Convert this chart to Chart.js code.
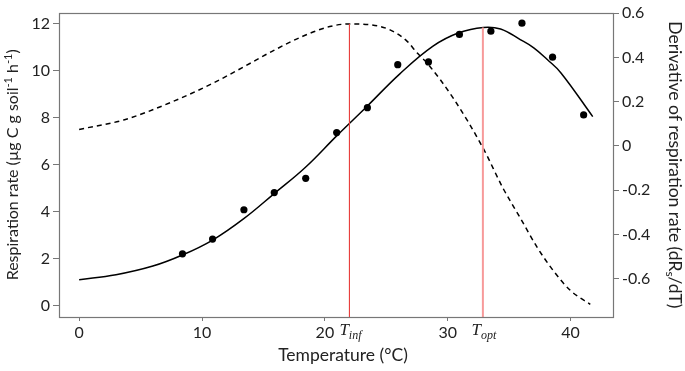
<!DOCTYPE html>
<html><head><meta charset="utf-8">
<script src="https://cdn.jsdelivr.net/npm/chart.js@4"></script>
<style>html,body{margin:0;padding:0;background:#fff;overflow:hidden;} #wrap{width:685px;height:371px;position:relative;}</style>
</head><body><div id="wrap"><canvas id="c" width="685" height="371"></canvas></div>
<script>
// Observed respiration rates
const obsTemp = [8.41, 10.86, 13.41, 15.88, 18.44, 20.96, 23.46, 25.93, 28.43, 30.95, 33.51, 36.04, 38.53, 41.06];
const obsRate = [2.20, 2.83, 4.08, 4.81, 5.42, 7.37, 8.43, 10.26, 10.38, 11.55, 11.69, 12.03, 10.58, 8.12];
// Fitted curve
const fitTemp = [0, 3, 6, 8.4, 10.9, 13.4, 15.9, 18.4, 21.0, 23.4, 26.1, 28.8, 30.9, 32.9, 34.3, 35.9, 37.0, 38.1, 39.2, 41.8];
const fitRate = [1.10, 1.31, 1.68, 2.15, 2.80, 3.70, 4.78, 5.88, 7.25, 8.47, 9.87, 11.05, 11.62, 11.85, 11.78, 11.33, 10.98, 10.48, 9.92, 8.05];
// Derivative curve (right axis)
const derivTemp = [0, 3.7, 7.8, 11.0, 13.5, 15.7, 18.2, 20.4, 22.0, 23.7, 25.3, 26.7, 27.5, 28.3, 30.5, 32.9, 34.5, 35.9, 37.3, 38.6, 40.0, 41.6];
const derivValue = [0.075, 0.119, 0.205, 0.287, 0.361, 0.428, 0.496, 0.540, 0.552, 0.548, 0.525, 0.473, 0.421, 0.376, 0.212, -0.012, -0.191, -0.325, -0.460, -0.564, -0.654, -0.716];
// Reference temperatures
const tInf = 22.0, tInfPeak = 0.552;
const tOpt = 32.86, tOptPeak = 11.85;
// Axes
const xRange = [-1.64, 43.45];
const leftRange = [-0.49, 12.48];
const rightRange = [-0.773, 0.603];
const xTicks = [0, 10, 20, 30, 40];
const xTickLabels = ['0', '10', '20', '30', '40'];
const leftTicks = [0, 2, 4, 6, 8, 10, 12];
const leftTickLabels = ['0', '2', '4', '6', '8', '10', '12'];
const rightTicks = [-0.6, -0.4, -0.2, 0, 0.2, 0.4, 0.6];
const rightTickLabels = ['-0.6', '-0.4', '-0.2', '0', '0.2', '0.4', '0.6'];

const zip = (xs, ys) => xs.map((x, i) => ({x, y: ys[i]}));
const FONT = 'Lato';
const AXIS = '#777';
const TXT = '#222';

function richWidth(ctx, segs) {
  let w = 0;
  for (const s of segs) { ctx.font = s.font; w += ctx.measureText(s.t).width; }
  return w;
}
function drawRich(ctx, segs, cx, cy, rot) {
  ctx.save();
  ctx.translate(cx, cy);
  ctx.rotate(rot);
  ctx.textBaseline = 'alphabetic';
  ctx.textAlign = 'left';
  ctx.fillStyle = TXT;
  let x = -richWidth(ctx, segs) / 2;
  for (const s of segs) {
    ctx.font = s.font;
    ctx.fillText(s.t, x, s.dy || 0);
    x += ctx.measureText(s.t).width;
  }
  ctx.restore();
}

const decor = {
  id: 'decor',
  afterDraw(chart) {
    const ctx = chart.ctx, a = chart.chartArea;
    ctx.save();
    ctx.strokeStyle = AXIS;
    ctx.lineWidth = 1.2;
    ctx.strokeRect(Math.round(a.left) + 0.5, Math.round(a.top) + 0.5, Math.round(a.right - a.left), Math.round(a.bottom - a.top));
    ctx.restore();
    const xs = chart.scales.x;
    const tf = 'italic 17px "Liberation Serif"';
    const sf = 'italic 12px "Liberation Serif"';
    drawRich(ctx, [{t:'T', font:tf}, {t:'inf', font:sf, dy:4}], xs.getPixelForValue(tInf) + 1, 335, 0);
    drawRich(ctx, [{t:'T', font:tf}, {t:'opt', font:sf, dy:4}], xs.getPixelForValue(tOpt) + 1, 335, 0);
    const mf = '16px ' + FONT, bf = '17.5px ' + FONT, sup = '11px ' + FONT;
    const cy = (a.top + a.bottom) / 2;
    drawRich(ctx, [{t:'Temperature (°C)', font:bf}], (a.left + a.right) / 2 + 7, 361, 0);
    drawRich(ctx, [
      {t:'Respiration rate (µg C g soil', font:mf},
      {t:'-1', font:sup, dy:-6},
      {t:' h', font:mf},
      {t:'-1', font:sup, dy:-6},
      {t:')', font:mf}
    ], 18, cy, -Math.PI / 2);
    drawRich(ctx, [
      {t:'Derivative of respiration rate (dR', font:bf},
      {t:'s', font:'12px ' + FONT, dy:3},
      {t:'/dT)', font:bf}
    ], 669, cy, Math.PI / 2);
  }
};

const tickFont = {family: FONT, size: 16};
new Chart(document.getElementById('c'), {
  type: 'scatter',
  data: {
    datasets: [
      {label: 'Tinf', data: [{x: tInf, y: tInfPeak}, {x: tInf, y: rightRange[0]}], yAxisID: 'y2', showLine: true, borderColor: '#e8403f', borderWidth: 1, pointRadius: 0},
      {label: 'Topt', data: [{x: tOpt, y: tOptPeak}, {x: tOpt, y: leftRange[0]}], yAxisID: 'y', showLine: true, borderColor: '#f79a9a', borderWidth: 2, pointRadius: 0},
      {label: 'deriv', data: zip(derivTemp, derivValue), yAxisID: 'y2', showLine: true, borderColor: '#000', borderWidth: 1.5, borderDash: [5, 4], pointRadius: 0, cubicInterpolationMode: 'monotone'},
      {label: 'fit', data: zip(fitTemp, fitRate), yAxisID: 'y', showLine: true, borderColor: '#000', borderWidth: 1.5, pointRadius: 0, tension: 0.4},
      {label: 'obs', data: zip(obsTemp, obsRate), yAxisID: 'y', showLine: false, pointRadius: 3.6, pointBackgroundColor: '#000', pointBorderColor: '#000', pointBorderWidth: 0}
    ]
  },
  options: {
    responsive: false,
    devicePixelRatio: 1,
    animation: false,
    events: [],
    layout: {padding: {top: 9, left: 0, right: 0, bottom: 0}},
    plugins: {legend: {display: false}, tooltip: {enabled: false}},
    scales: {
      x: {
        type: 'linear', position: 'bottom', min: xRange[0], max: xRange[1],
        afterBuildTicks: s => { s.ticks = xTicks.map(v => ({value: v})); },
        afterFit: s => { s.height = 54; },
        ticks: {font: tickFont, color: TXT, padding: 2, maxRotation: 0, autoSkip: false, callback: (v, i) => xTickLabels[i]},
        grid: {drawOnChartArea: false, drawTicks: true, tickLength: 4, color: AXIS, tickColor: AXIS},
        border: {display: false}
      },
      y: {
        type: 'linear', position: 'left', min: leftRange[0], max: leftRange[1],
        afterBuildTicks: s => { s.ticks = leftTicks.map(v => ({value: v})); },
        afterFit: s => { s.width = 59; },
        ticks: {font: tickFont, color: TXT, padding: 3, autoSkip: false, callback: (v, i) => leftTickLabels[i]},
        grid: {drawOnChartArea: false, drawTicks: true, tickLength: 6, color: AXIS, tickColor: AXIS},
        border: {display: false}
      },
      y2: {
        type: 'linear', position: 'right', min: rightRange[0], max: rightRange[1],
        afterBuildTicks: s => { s.ticks = rightTicks.map(v => ({value: v})); },
        afterFit: s => { s.width = 72; },
        ticks: {font: tickFont, color: TXT, padding: 3, autoSkip: false, callback: (v, i) => rightTickLabels[i]},
        grid: {drawOnChartArea: false, drawTicks: true, tickLength: 6, color: AXIS, tickColor: AXIS},
        border: {display: false}
      }
    }
  },
  plugins: [decor]
});
</script>
</body></html>
